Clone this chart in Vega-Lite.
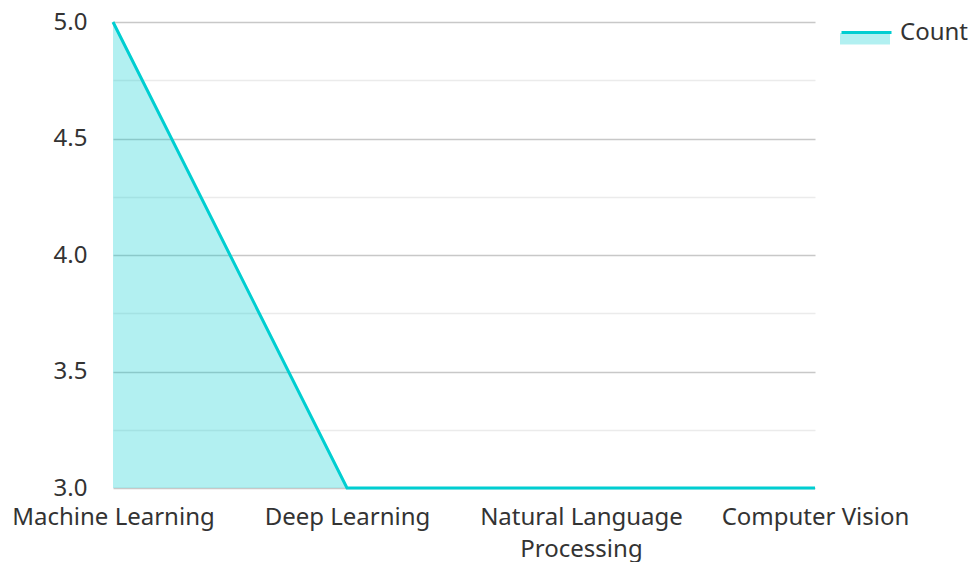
{
  "$schema": "https://vega.github.io/schema/vega-lite/v6.json",
  "width": 702,
  "height": 466,
  "autosize": {"type": "none"},
  "padding": {"left": 113, "top": 22, "right": 158, "bottom": 74},
  "config": {"font": "Noto Sans", "view": {"stroke": null}},
  "data": {
    "values": [
      {"topic": "Machine Learning", "count": 5, "series": "Count", "label": "Count"},
      {"topic": "Deep Learning", "count": 3, "series": "Count", "label": "Count"},
      {"topic": "Natural Language Processing", "count": 3, "series": "Count", "label": "Count"},
      {"topic": "Computer Vision", "count": 3, "series": "Count", "label": "Count"}
    ]
  },
  "encoding": {
    "x": {
      "field": "topic",
      "type": "ordinal",
      "sort": null,
      "scale": {"type": "point", "padding": 0},
      "axis": {
        "title": null,
        "labelAngle": 0,
        "domain": false,
        "ticks": false,
        "grid": false,
        "labelFontSize": 24,
        "labelColor": "#333333",
        "labelPadding": 17,
        "labelLimit": 0,
        "labelOverlap": false,
        "labelLineHeight": 32,
        "labelExpr": "datum.label == 'Natural Language Processing' ? ['Natural Language', 'Processing'] : datum.label"
      }
    },
    "y": {
      "field": "count",
      "type": "quantitative",
      "scale": {"domain": [3, 5], "zero": false, "nice": false},
      "axis": {
        "title": null,
        "values": [3, 3.25, 3.5, 3.75, 4, 4.25, 4.5, 4.75, 5],
        "labelExpr": "datum.value % 0.5 == 0 ? format(datum.value, '.1f') : ''",
        "domain": false,
        "ticks": false,
        "labelPadding": 26,
        "labelFontSize": 24,
        "labelColor": "#333333",
        "labelOverlap": false,
        "gridWidth": 1.5,
        "gridColor": {"expr": "datum.value % 0.5 == 0 ? '#c8c8c8' : '#ebebeb'"}
      }
    }
  },
  "layer": [
    {
      "mark": {"type": "area", "fillOpacity": 0.3},
      "encoding": {
        "y2": {"datum": 3},
        "fill": {
          "field": "series",
          "type": "nominal",
          "scale": {"range": ["#00CED1"]},
          "legend": {
            "title": null,
            "orient": "none",
            "legendX": 727,
            "legendY": -8,
            "padding": 0,
            "labelExpr": "''",
            "labelFontSize": 24,
            "labelOffset": 10,
            "symbolType": "M-1,-0.24H1V0.22H-1Z",
            "symbolSize": 2500,
            "symbolOpacity": 0.3,
            "symbolStrokeColor": "transparent",
            "symbolStrokeWidth": 0
          }
        }
      }
    },
    {
      "mark": {"type": "line", "strokeWidth": 3},
      "encoding": {
        "stroke": {
          "field": "label",
          "type": "nominal",
          "scale": {"range": ["#00CED1"]},
          "legend": {
            "title": null,
            "orient": "none",
            "legendX": 727,
            "legendY": -16,
            "padding": 0,
            "labelFontSize": 24,
            "labelColor": "#333333",
            "labelOffset": 7,
            "symbolType": "M-1,0H1",
            "symbolSize": 2500,
            "symbolStrokeWidth": 3
          }
        }
      }
    }
  ]
}
